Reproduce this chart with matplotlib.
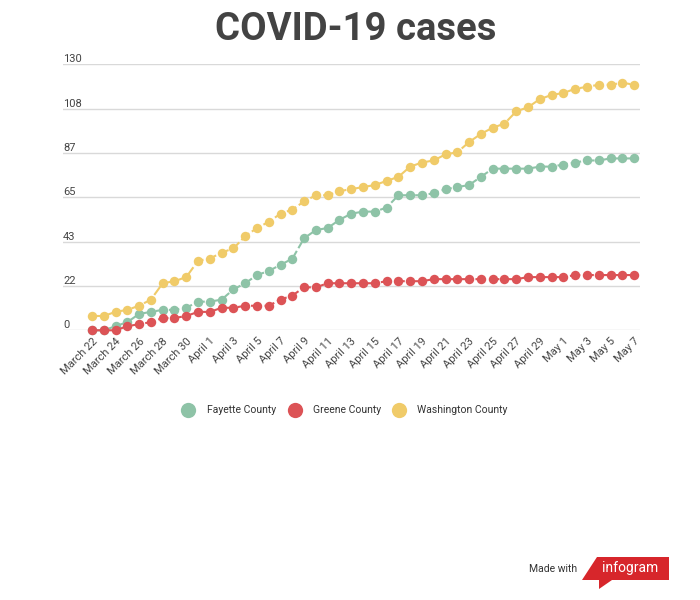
import matplotlib
matplotlib.use("Agg")
import matplotlib.pyplot as plt
from matplotlib.patches import Polygon
from matplotlib.lines import Line2D
import matplotlib.transforms as mtransforms

plt.rcParams['font.family'] = ['Roboto', 'DejaVu Sans']

dates = ["March 22", "March 23", "March 24", "March 25", "March 26", "March 27", "March 28",
         "March 29", "March 30", "March 31", "April 1", "April 2", "April 3", "April 4",
         "April 5", "April 6", "April 7", "April 8", "April 9", "April 10", "April 11",
         "April 12", "April 13", "April 14", "April 15", "April 16", "April 17", "April 18",
         "April 19", "April 20", "April 21", "April 22", "April 23", "April 24", "April 25",
         "April 26", "April 27", "April 28", "April 29", "April 30", "May 1", "May 2",
         "May 3", "May 4", "May 5", "May 6", "May 7"]

fayette = [0, 0, 2, 4, 8, 9, 10, 10, 11, 14, 14, 15, 20, 23, 27, 29, 32, 35, 45, 49, 50,
           54, 57, 58, 58, 60, 66, 66, 66, 67, 69, 70, 71, 75, 79, 79, 79, 79, 80, 80,
           81, 82, 83, 83, 84, 84, 84]
greene = [0, 0, 0, 2, 3, 4, 6, 6, 7, 9, 9, 11, 11, 12, 12, 12, 15, 17, 21, 21, 23,
          23, 23, 23, 23, 24, 24, 24, 24, 25, 25, 25, 25, 25, 25, 25, 25, 26, 26, 26,
          26, 27, 27, 27, 27, 27, 27]
washington = [7, 7, 9, 10, 12, 15, 23, 24, 26, 34, 35, 38, 40, 46, 50, 53, 57, 59, 63, 66, 66,
              68, 69, 70, 71, 73, 75, 80, 82, 83, 86, 87, 92, 96, 99, 101, 107, 109, 113, 115,
              116, 118, 119, 120, 120, 121, 120]

series_names = ["Fayette County", "Greene County", "Washington County"]
series_values = [fayette, greene, washington]
colors = ["#8ec3a7", "#dc5356", "#f0cb69"]

ytick_vals = [0, 130/6, 2*130/6, 3*130/6, 4*130/6, 5*130/6, 130]
ytick_labels = ["0", "22", "43", "65", "87", "108", "130"]

W, H = 700, 600
fig = plt.figure(figsize=(W/100, H/100), dpi=100)
ax = fig.add_axes([63/W, 1-330.3/H, (640-63)/W, (330.3-64.3)/H])

x = list(range(len(dates)))
for i, (name, vals, c) in enumerate(zip(series_names, series_values, colors)):
    ax.plot(x, vals, color=c, lw=1.5, linestyle=(0, (5, 1.5)), zorder=3+i,
            clip_on=False)
    ax.plot(x, vals, color=c, lw=0, marker='o', markersize=6.8,
            markeredgewidth=0, zorder=3+i, clip_on=False)

ax.set_xlim(-2.46, 46.5)
ax.set_ylim(0, 130)
for s in ax.spines.values():
    s.set_visible(False)
ax.set_yticks([])
for v in ytick_vals:
    ax.axhline(v, color="#d9d9d9", lw=1, zorder=1)
trans = mtransforms.blended_transform_factory(ax.transAxes, ax.transData)
for v, lab in zip(ytick_vals, ytick_labels):
    ax.text(0.0, v, lab, transform=trans, ha='left', va='bottom', fontsize=8,
            color="#444444")

ax.set_xticks(x[::2])
ax.set_xticklabels(dates[::2], rotation=45, ha='right', rotation_mode='anchor',
                   fontsize=8, color="#444444")
ax.tick_params(axis='x', length=0, pad=4)

fig.text(356/W, 1-29/H, "COVID-19 cases", ha='center', va='center',
         fontsize=27.5, fontweight='bold', color="#434343")

# legend
leg_y = 1-410/H
items = [(188, 207, series_names[0]), (295, 313, series_names[1]), (399, 417, series_names[2])]
for (cx, tx, name), c in zip(items, colors):
    fig.add_artist(Line2D([cx/W], [leg_y], marker='o', markersize=11, color=c,
                          markeredgewidth=0, transform=fig.transFigure))
    fig.text(tx/W, leg_y, name, ha='left', va='center', fontsize=7.5, color="#333333")

# Made with infogram
fig.text(553/W, 1-569/H, "Made with", ha='center', va='center', fontsize=7.5, color="#333333")
poly = [(597, 557), (669, 557), (669, 580), (612, 580), (599, 589), (599, 580), (582, 580)]
fig.add_artist(Polygon([(px/W, 1-py/H) for px, py in poly], closed=True,
                       transform=fig.transFigure, facecolor="#d7262b", edgecolor='none'))
fig.text(630/W, 1-568/H, "infogram", ha='center', va='center', fontsize=10,
         color="white")

fig.savefig("out.png", dpi=100)
